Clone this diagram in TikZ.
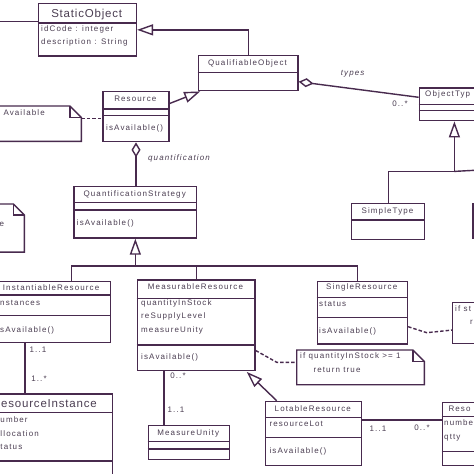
\documentclass[tikz,border=0pt]{standalone}
\usepackage{fontspec}
\newfontfamily\umlf[LetterSpace=14]{Liberation Sans}
\newfontfamily\umlt[LetterSpace=7]{Liberation Sans}
\usetikzlibrary{arrows.meta,calc}
\definecolor{umlc}{RGB}{72,42,78}
\definecolor{umltx}{RGB}{75,62,82}
\newcommand\compline[2]{\draw[ln] (#1.west |- 0,#2) -- (#1.east |- 0,#2);}
\newcommand\drawnote[2]{\draw[ln] (#1.south west) -- (#1.north west) -- ($(#1.north east)+(-#2,0)$) -- ($(#1.north east)+(0,#2)$) -- (#1.south east) -- cycle;
  \draw[ln] ($(#1.north east)+(-#2,0)$) |- ($(#1.north east)+(0,#2)$);}
\tikzset{
  ln/.style={draw=umlc, line width=1.4pt},
  box/.style={draw=umlc, line width=1.4pt, rectangle, inner sep=0pt, anchor=north west},
  notebg/.style={draw=none, rectangle, inner sep=0pt, anchor=north west},
  txt/.style={text=umltx, font=\umlf\fontsize{8}{9}\selectfont, inner sep=0pt, text height=5.8pt, text depth=0pt},
  big/.style={text=umltx, font=\umlt\fontsize{11.5}{13}\selectfont, inner sep=0pt, text height=8.3pt, text depth=0pt},
  itl/.style={txt, font=\umlf\itshape\fontsize{8}{9}\selectfont},
  dsh/.style={draw=umlc, line width=1.4pt, dash pattern=on 3.5pt off 2pt},
  gen/.style={ln, -{Triangle[length=16pt,width=11pt,fill=white]}},
  agg/.style={ln, {Diamond[length=15pt,width=9pt,fill=white]}-},
}
\begin{document}
\begin{tikzpicture}[x=1pt,y=-1pt]
\fill[white] (0,0) rectangle (474,474);
\useasboundingbox (0,0) rectangle (474,474);
\clip (0,0) rectangle (474,474);

% ---------- StaticObject
\node[box, minimum width=98pt, minimum height=52.3pt] (so) at (37.7,3) {};
\compline{so}{23}
\node[big] (so-t) at (86.7,13) {StaticObject};
\node[txt, anchor=west] (so-a1) at (41,29) {idCode : integer};
\node[txt, anchor=west] (so-a2) at (41,41.7) {description : String};
\coordinate (le) at (0,21.7);
\draw[ln] (le) -- (so.west |- le);

% ---------- QualifiableObject
\node[box, minimum width=99.6pt, minimum height=35.3pt] (qo) at (197.7,54.7) {};
\compline{qo}{72.5}
\node[txt] (qo-t) at (247.5,62.5) {QualifiableObject};
\draw[gen] (qo.north) |- (so.east);

% ---------- ObjectTyp
\node[box, minimum width=70pt, minimum height=32.7pt] (ot) at (418.7,87.3) {};
\compline{ot}{104.5}
\compline{ot}{110.7}
\node[txt, anchor=west] (ot-t) at (425,94) {ObjectTyp};
\draw[agg] ($(qo.north east)+(0,27)$) -- ($(ot.north west)+(0,10)$);
\node[itl] (types) at (352.7,73) {types};
\node[txt] (m1) at (400,103.3) {0..*};

% ---------- SimpleType and sibling
\node[box, minimum width=73pt, minimum height=36pt] (st) at (351,202.7) {};
\compline{st}{220}
\node[txt] (st-t) at (387.5,211) {SimpleType};
\node[draw=none, fill=umlc, inner sep=0pt, anchor=north west, minimum width=3pt, minimum height=36pt] (rx) at (471.3,202.7) {};
\coordinate (otj) at ($(ot.south)+(0,50)$);
\coordinate (otr) at (480,170);
\draw[gen] (st.north) |- (otj) -- (ot.south);
\draw[ln] (otj) -- (otr);

% ---------- Resource
\node[box, minimum width=66pt, minimum height=50pt] (res) at (102.3,91) {};
\compline{res}{109}
\compline{res}{115.7}
\node[txt] (res-t) at (135.3,99) {Resource};
\node[txt, anchor=west] (res-m1) at (106,127.5) {isAvailable()};
\draw[gen] ($(res.north east)+(0,12.5)$) -- ($(qo.south west)+(2.5,0)$);

% ---------- note left of Resource
\node[notebg, minimum width=86pt, minimum height=35pt] (n1) at (-5,106) {};
\drawnote{n1}{11.5}
\node[txt, anchor=west] (n1-t) at (3.3,112.5) {Available};
\draw[dsh] (n1.east |- 0,118.3) -- (res.west |- 0,118.3);

% ---------- second note at left
\node[notebg, minimum width=74pt, minimum height=47.7pt] (n0) at (-50,204) {};
\drawnote{n0}{11}
\node[txt, anchor=west] (n0-t) at (-0.5,223.3) {e};

% ---------- QuantificationStrategy
\node[box, minimum width=122.7pt, minimum height=51.6pt] (qs) at (73.3,185.7) {};
\compline{qs}{202.7}
\compline{qs}{210}
\node[txt] (qs-t) at (134.7,194) {QuantificationStrategy};
\node[txt, anchor=west] (qs-m1) at (76.7,223) {isAvailable()};
\draw[agg] (res.south) -- (res.south |- qs.north);
\node[itl] (quant) at (179,158) {quantification};

% ---------- generalization tree under QuantificationStrategy
\coordinate (qsj) at (qs.south |- 0,266);
\draw[gen] (qsj) -- (qs.south);

% ---------- InstantiableResource
\node[box, minimum width=116pt, minimum height=61pt] (ir) at (-6,280.7) {};
\compline{ir}{295}
\compline{ir}{315.7}
\node[txt, anchor=west] (ir-t) at (2.7,287.5) {InstantiableResource};
\node[txt, anchor=west] (ir-a1) at (0,302.7) {nstances};
\node[txt, anchor=west] (ir-m1) at (0,330) {sAvailable()};

% ---------- MeasurableResource
\node[box, minimum width=117.6pt, minimum height=90.7pt] (mr) at (136.7,279.3) {};
\compline{mr}{298.3}
\compline{mr}{345}
\node[txt] (mr-t) at (195.5,287) {MeasurableResource};
\node[txt, anchor=west] (mr-a1) at (141,302.7) {quantityInStock};
\node[txt, anchor=west] (mr-a2) at (141,315.3) {reSupplyLevel};
\node[txt, anchor=west] (mr-a3) at (141,330) {measureUnity};
\node[txt, anchor=west] (mr-m1) at (141,356.7) {isAvailable()};

% ---------- SingleResource
\node[box, minimum width=90pt, minimum height=62.6pt] (sr) at (316.7,280.7) {};
\compline{sr}{297.3}
\compline{sr}{317.3}
\node[txt] (sr-t) at (361.7,287) {SingleResource};
\node[txt, anchor=west] (sr-a1) at (319,304) {status};
\node[txt, anchor=west] (sr-m1) at (319,330.7) {isAvailable()};

\draw[ln] (ir.north -| 71.7,0) -- (71.7,266) -- (357.3,266) -- (sr.north -| 357.3,0);
\draw[ln] (mr.north) -- (mr.north |- qsj);

% ---------- ResourceInstance
\node[box, minimum width=121.7pt, minimum height=90pt] (ri) at (-10,393.3) {};
\compline{ri}{412.7}
\compline{ri}{461}
\node[big, anchor=west] (ri-t) at (1,403.3) {esourceInstance};
\node[txt, anchor=west] (ri-a1) at (0.3,419.3) {umber};
\node[txt, anchor=west] (ri-a2) at (0.3,434) {llocation};
\node[txt, anchor=west] (ri-a3) at (0.3,446.7) {tatus};
\draw[ln] (ir.south -| 25,0) -- (ri.north -| 25,0);
\node[txt] (m2) at (38,350) {1..1};
\node[txt] (m3) at (39,378.3) {1..*};

% ---------- MeasureUnity
\node[box, minimum width=81pt, minimum height=34pt] (mu) at (147.7,425) {};
\compline{mu}{441.7}
\compline{mu}{449}
\node[txt] (mu-t) at (188.2,433) {MeasureUnity};
\draw[ln] (mr.south -| 164,0) -- (mu.north -| 164,0);
\node[txt] (m4) at (178,375.5) {0..*};
\node[txt] (m5) at (176,410) {1..1};

% ---------- note quantityInStock
\node[notebg, minimum width=127.3pt, minimum height=34.3pt] (n2) at (296.7,350) {};
\drawnote{n2}{11.5}
\node[txt, anchor=west] (n2-t1) at (300,356) {if quantityInStock >= 1};
\node[txt, anchor=west] (n2-t2) at (313.3,369.3) {return true};
\draw[dsh] (mr.east |- 0,350.5) -- (276.7,362.3) -- (n2.west |- 0,362.3);

% ---------- LotableResource
\node[box, minimum width=95.7pt, minimum height=64.3pt] (lr) at (265,400.7) {};
\compline{lr}{417.3}
\compline{lr}{437.7}
\node[txt] (lr-t) at (312.8,409) {LotableResource};
\node[txt, anchor=west] (lr-a1) at (269.3,423.5) {resourceLot};
\node[txt, anchor=west] (lr-m1) at (269.3,450.7) {isAvailable()};
\draw[gen] (lr.north -| 276.7,0) -- ($(mr.south east)+(-9,0.5)$);

% ---------- Reso...
\node[box, minimum width=50pt, minimum height=63.3pt] (rs) at (441.7,401.7) {};
\compline{rs}{416.7}
\compline{rs}{451.7}
\node[txt, anchor=west] (rs-t) at (448.3,409) {Reso};
\node[txt, anchor=west] (rs-a1) at (444,423) {numbe};
\node[txt, anchor=west] (rs-a2) at (444,437) {qtty};
\draw[ln] (lr.east |- 0,420) -- (rs.west |- 0,420);
\node[txt] (m6) at (378,429) {1..1};
\node[txt] (m7) at (422,428) {0..*};

% ---------- note right of SingleResource
\node[notebg, minimum width=60pt, minimum height=41pt] (n3) at (452.7,302.3) {};
\draw[ln] (n3.south east) -- (n3.south west) -- (n3.north west) -- (n3.north east);
\node[txt, anchor=west] (n3-t1) at (455,308.3) {if st};
\node[txt, anchor=west] (n3-t2) at (470,321.7) {r};
\draw[dsh] (sr.east |- 0,326.7) -- (426.7,332.7) -- (n3.west |- 0,330);
\end{tikzpicture}
\end{document}
